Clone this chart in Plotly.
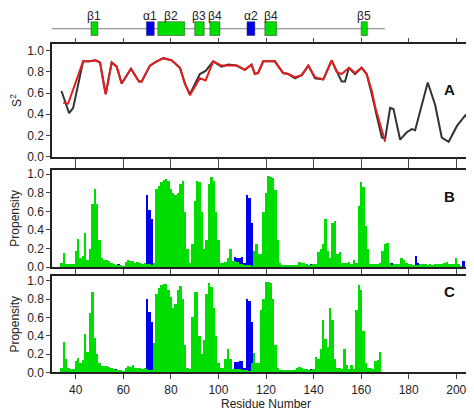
import plotly.graph_objects as go

# S2 order parameter (black = full, red = truncated)
s2_res = [34, 37.2, 38.9, 43.1, 45.9, 48.3, 50.2, 52, 52.6, 55.1, 57.2, 59.3, 63.2, 66.6, 67.7, 71.2, 73.3,
          76.8, 80.3, 83.8, 85.9, 88, 92.2, 94.6, 97.8, 101.3, 104.1, 107.6, 111.1, 113.9, 115.3, 116.7,
          118.8, 123.7, 127.2, 129.4, 132.2, 135, 137.8, 140.6, 144.1, 147.6, 149.7, 151.8, 153.2, 154.9,
          157.4, 160.2, 162.3, 164.5, 166.6, 168.7, 170.1, 172.2, 173.6, 176.4, 179.2, 181.3, 182.7, 185.5,
          188, 191.1, 193.9, 196.8, 200.3, 203.8, 207.3]
s2_black = [0.62, 0.41, 0.46, 0.90, 0.90, 0.91, 0.89, 0.65, 0.59, 0.89, 0.85, 0.69, 0.83, 0.71, 0.71, 0.86, 0.89,
            0.93, 0.91, 0.84, 0.69, 0.59, 0.78, 0.81, 0.90, 0.85, 0.87, 0.86, 0.82, 0.87, 0.78, 0.79,
            0.90, 0.90, 0.79, 0.78, 0.74, 0.77, 0.86, 0.74, 0.73, 0.91, 0.81, 0.71, 0.71, 0.84,
            0.78, 0.84, 0.78, 0.59, 0.38, 0.18, 0.17, 0.46, 0.45, 0.16, 0.23, 0.26, 0.25, 0.49,
            0.70, 0.49, 0.18, 0.14, 0.29, 0.39, 0.30]
red_res = [34.7, 36.8, 43.1, 45.9, 48.3, 50.2, 52, 52.6, 55.1, 57.2, 59.3, 63.2, 66.6, 67.7, 71.2, 73.3,
           76.8, 80.3, 83.8, 85.9, 88, 92.2, 94.6, 97.8, 101.3, 104.1, 107.6, 111.1, 113.9, 115.3, 116.7,
           118.8, 123.7, 127.2, 129.4, 132.2, 135, 137.8, 140.6, 144.1, 147.6, 149.7, 151.8, 154.9,
           157.4, 160.2, 162.3, 164.5, 165.9, 168.7, 170.1]
s2_red = [0.51, 0.50, 0.90, 0.90, 0.91, 0.89, 0.65, 0.59, 0.89, 0.85, 0.69, 0.83, 0.71, 0.71, 0.86, 0.89,
          0.93, 0.91, 0.84, 0.69, 0.58, 0.74, 0.72, 0.90, 0.86, 0.86, 0.86, 0.82, 0.87, 0.78, 0.79,
          0.90, 0.90, 0.79, 0.78, 0.75, 0.77, 0.86, 0.75, 0.73, 0.91, 0.80, 0.78, 0.84,
          0.79, 0.84, 0.78, 0.62, 0.47, 0.25, 0.14]

# propensity panel B (residues 34..205)
res_b = list(range(34, 206))
green_b = [0.05, 0.16, 0.04, 0.04, 0.04, 0.04, 0.18, 0.31, 0.10, 0.12,
           0.37, 0.08, 0.20, 0.68, 0.85, 0.68, 0.30, 0.10, 0.08, 0.08,
           0.07, 0.05, 0.04, 0.03, 0.03, 0.03, 0.02, 0.06, 0.08, 0.07,
           0.07, 0.05, 0.06, 0.05, 0.04, 0.05, 0.04, 0.04, 0.03, 0.05,
           0.85, 0.88, 0.92, 0.94, 0.95, 0.93, 0.85, 0.80, 0.78, 0.80,
           0.90, 0.93, 0.60, 0.20, 0.05, 0.25, 0.72, 0.93, 0.92, 0.60,
           0.20, 0.30, 0.90, 0.97, 0.93, 0.60, 0.30, 0.05, 0.05, 0.06,
           0.10, 0.20, 0.07, 0.07, 0.06, 0.04, 0.04, 0.03, 0.03, 0.03,
           0.02, 0.18, 0.25, 0.15, 0.15, 0.60, 0.80, 0.99, 0.98, 0.96,
           0.83, 0.30, 0.05, 0.03, 0.03, 0.03, 0.03, 0.03, 0.03, 0.03,
           0.06, 0.05, 0.05, 0.04, 0.03, 0.03, 0.04, 0.04, 0.17, 0.20,
           0.25, 0.52, 0.18, 0.10, 0.48, 0.50, 0.15, 0.17, 0.05, 0.05,
           0.05, 0.06, 0.04, 0.08, 0.05, 0.66, 0.92, 0.87, 0.45, 0.20,
           0.04, 0.04, 0.04, 0.04, 0.05, 0.18, 0.25, 0.26, 0.05, 0.03,
           0.04, 0.04, 0.04, 0.10, 0.08, 0.05, 0.04, 0.04, 0.03, 0.03,
           0.03, 0.04, 0.04, 0.04, 0.03, 0.04, 0.03, 0.04, 0.04, 0.04,
           0.04, 0.05, 0.06, 0.04, 0.04, 0.04, 0.10, 0.04, 0.02, 0.00,
           0.00, 0.00]
blue_res_b = [58, 70, 71, 72, 73, 107, 108, 109, 110, 111, 112, 113, 114, 115, 139, 173, 183, 184, 203]
blue_b = [0.04, 0.78, 0.62, 0.52, 0.04, 0.11, 0.10, 0.10, 0.11, 0.05, 0.78, 0.75, 0.48, 0.08, 0.04, 0.05, 0.12, 0.05, 0.07]

# propensity panel C (residues 34..170)
res_c = list(range(34, 171))
green_c = [0.05, 0.33, 0.15, 0.05, 0.04, 0.04, 0.12, 0.16, 0.10, 0.14,
           0.42, 0.22, 0.65, 0.88, 0.38, 0.20, 0.10, 0.07, 0.07, 0.07,
           0.06, 0.05, 0.04, 0.03, 0.03, 0.03, 0.02, 0.05, 0.07, 0.06,
           0.08, 0.05, 0.05, 0.05, 0.04, 0.05, 0.04, 0.03, 0.03, 0.32,
           0.85, 0.92, 0.95, 0.96, 0.96, 0.90, 0.82, 0.70, 0.75, 0.90,
           0.94, 0.80, 0.30, 0.05, 0.04, 0.60, 0.88, 0.88, 0.40, 0.20,
           0.35, 0.85, 0.97, 0.93, 0.70, 0.40, 0.10, 0.05, 0.05, 0.15,
           0.25, 0.15, 0.04, 0.04, 0.04, 0.04, 0.03, 0.03, 0.03, 0.02,
           0.10, 0.21, 0.10, 0.10, 0.68, 0.80, 0.99, 0.98, 0.97, 0.80,
           0.30, 0.05, 0.03, 0.03, 0.03, 0.03, 0.03, 0.03, 0.03, 0.05,
           0.06, 0.05, 0.04, 0.04, 0.03, 0.03, 0.04, 0.17, 0.15, 0.25,
           0.57, 0.36, 0.28, 0.70, 0.57, 0.15, 0.05, 0.05, 0.04, 0.25,
           0.08, 0.04, 0.08, 0.04, 0.68, 0.95, 0.90, 0.45, 0.10, 0.05,
           0.05, 0.04, 0.12, 0.14, 0.22, 0.00, 0.00]
blue_res_c = [57, 70, 71, 72, 73, 107, 108, 109, 110, 111, 112, 113, 114, 115, 139]
blue_c = [0.04, 0.80, 0.66, 0.55, 0.04, 0.11, 0.11, 0.12, 0.12, 0.05, 0.80, 0.78, 0.55, 0.08, 0.04]

# secondary structure elements
ss_label = ["β1", "α1", "β2", "β3", "β4", "α2", "β4", "β5"]
ss_start = [46.4, 69.7, 74.5, 90.0, 96.4, 112.0, 119.5, 160.0]
ss_end = [49.3, 73.0, 85.8, 94.0, 100.6, 115.3, 124.5, 162.6]
ss_type = ["b", "a", "b", "b", "b", "a", "b", "b"]
ss_line = [30, 170]

GREEN = "#00dd00"
BLUE = "#0000ee"

fig = go.Figure()
fig.add_trace(go.Scatter(x=s2_res, y=s2_black, mode="lines", line=dict(color="#333333", width=2), xaxis="x", yaxis="y"))
fig.add_trace(go.Scatter(x=red_res, y=s2_red, mode="lines", line=dict(color="#e02020", width=2), xaxis="x", yaxis="y"))
fig.add_trace(go.Bar(x=blue_res_b, y=blue_b, marker=dict(color=BLUE, line_width=0), width=1, xaxis="x2", yaxis="y2"))
fig.add_trace(go.Bar(x=res_b, y=green_b, marker=dict(color=GREEN, line_width=0), width=1, xaxis="x2", yaxis="y2"))
fig.add_trace(go.Bar(x=blue_res_c, y=blue_c, marker=dict(color=BLUE, line_width=0), width=1, xaxis="x3", yaxis="y3"))
fig.add_trace(go.Bar(x=res_c, y=green_c, marker=dict(color=GREEN, line_width=0), width=1, xaxis="x3", yaxis="y3"))

font = dict(family="Liberation Sans, Arial", size=12, color="#222")
xcommon = dict(range=[30, 210], domain=[0.093, 0.998], showline=True, mirror="ticks", linecolor="#222",
               linewidth=1.5, ticks="outside", ticklen=5, tickvals=[40, 60, 80, 100, 120, 140, 160, 180, 200],
               showgrid=False, zeroline=False, tickfont=font)
ycommon = dict(showline=True, mirror=True, linecolor="#222", linewidth=1.5, ticks="outside", ticklen=4,
               tickvals=[0, 0.2, 0.4, 0.6, 0.8, 1.0], tickformat=".1f", showgrid=False, zeroline=False,
               tickfont=font)

shapes = [dict(type="line", xref="x", yref="paper", x0=ss_line[0], x1=ss_line[1], y0=0.954, y1=0.954,
               line=dict(color="#999", width=1.2))]
annotations = []
for lab, s, e, t in zip(ss_label, ss_start, ss_end, ss_type):
    shapes.append(dict(type="rect", xref="x", yref="paper", x0=s, x1=e, y0=0.937, y1=0.971,
                       fillcolor=GREEN if t == "b" else BLUE, line=dict(color="#333", width=0.5)))
    annotations.append(dict(x=(s + e) / 2, y=0.984, xref="paper" if False else "x", yref="paper", text=lab,
                            showarrow=False, yanchor="middle", font=font))
for lab, y in zip(["A", "B", "C"], [0.83, 0.54, 0.28]):
    annotations.append(dict(x=0.95, y=y, xref="paper", yref="paper", text="<b>" + lab + "</b>",
                            showarrow=False, font=dict(family="Liberation Sans, Arial", size=15, color="#111")))

fig.update_layout(
    width=474, height=414, margin=dict(l=0, r=0, t=0, b=0), showlegend=False,
    plot_bgcolor="white", paper_bgcolor="white", barmode="overlay", bargap=0,
    xaxis=dict(xcommon, anchor="y", showticklabels=False),
    yaxis=dict(ycommon, domain=[0.638, 0.915], range=[0, 1.06], anchor="x",
               title=dict(text="S<sup>2</sup>", font=font, standoff=6)),
    xaxis2=dict(xcommon, anchor="y2", showticklabels=False),
    yaxis2=dict(ycommon, domain=[0.365, 0.606], range=[0, 1.05], anchor="x2",
                title=dict(text="Propensity", font=font, standoff=6)),
    xaxis3=dict(xcommon, anchor="y3", title=dict(text="Residue Number", font=font, standoff=2)),
    yaxis3=dict(ycommon, domain=[0.105, 0.343], range=[0, 1.05], anchor="x3",
                title=dict(text="Propensity", font=font, standoff=6)),
    shapes=shapes, annotations=annotations,
)

fig.write_html("out.html")
